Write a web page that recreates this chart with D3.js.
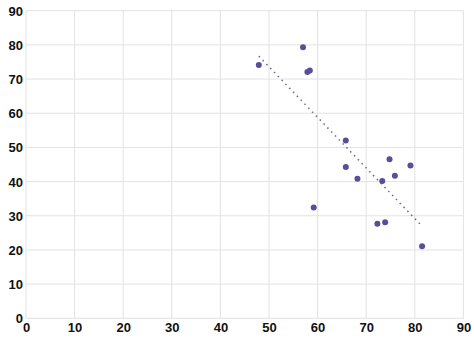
<!DOCTYPE html>
<html><head><meta charset="utf-8">
<script src="https://cdn.jsdelivr.net/npm/d3@7"></script>
<style>body{margin:0;background:#fff}svg{display:block}</style>
</head><body>
<script>
const xValues = [47.9, 57.0, 57.9, 58.4, 65.8, 65.8, 74.8, 79.1, 75.9, 68.2, 73.3, 59.2, 72.3, 73.9, 81.5];
const yValues = [74.1, 79.3, 72.1, 72.5, 52.0, 44.3, 46.5, 44.7, 41.7, 40.8, 40.2, 32.4, 27.7, 28.1, 21.1];
const xTicks = [0,10,20,30,40,50,60,70,80,90];
const yTicks = [0,10,20,30,40,50,60,70,80,90];

const W = 474, H = 338;
const svg = d3.select("body").append("svg").attr("width", W).attr("height", H);
const x = d3.scaleLinear().domain([0,90]).range([26, 463.4]);
const y = d3.scaleLinear().domain([0,90]).range([318.3, 10.7]);

const grid = svg.append("g");
grid.selectAll("line.v").data(xTicks).enter().append("line")
  .attr("x1", d=>x(d)).attr("x2", d=>x(d)).attr("y1", y(0)).attr("y2", y(90))
  .attr("stroke", "#e2e2e2").attr("stroke-width", 1);
grid.selectAll("line.h").data(yTicks).enter().append("line")
  .attr("x1", x(0)).attr("x2", x(90)).attr("y1", d=>y(d)).attr("y2", d=>y(d))
  .attr("stroke", "#e2e2e2").attr("stroke-width", 1);

const font = "'Liberation Sans', Arial, sans-serif";
svg.append("g").selectAll("text").data(yTicks).enter().append("text")
  .attr("x", 23).attr("y", d=>y(d)+5).attr("text-anchor","end")
  .attr("font-family", font).attr("font-weight","bold").attr("font-size", 13).attr("fill","#111")
  .text(d=>d);
svg.append("g").selectAll("text").data(xTicks).enter().append("text")
  .attr("x", d=>x(d)+0.5).attr("y", 332).attr("text-anchor","middle")
  .attr("font-family", font).attr("font-weight","bold").attr("font-size", 13).attr("fill","#111")
  .text(d=>d);

// regression trend line
const n = xValues.length;
const mx = d3.mean(xValues), my = d3.mean(yValues);
let sxy = 0, sxx = 0;
for (let i=0;i<n;i++){ sxy += (xValues[i]-mx)*(yValues[i]-my); sxx += (xValues[i]-mx)**2; }
const slope = sxy/sxx, icpt = my - slope*mx;
const [x0, x1] = d3.extent(xValues);
svg.append("line")
  .attr("x1", x(x0)).attr("y1", y(icpt+slope*x0))
  .attr("x2", x(x1)).attr("y2", y(icpt+slope*x1))
  .attr("stroke", "#6b6494").attr("stroke-width", 1.5).attr("stroke-dasharray", "1.5,4");

svg.append("g").selectAll("circle").data(xValues).enter().append("circle")
  .attr("cx", (d)=>x(d)).attr("cy", (d,i)=>y(yValues[i])).attr("r", 3)
  .attr("fill", "#5a4d9c");
</script>
</body></html>
